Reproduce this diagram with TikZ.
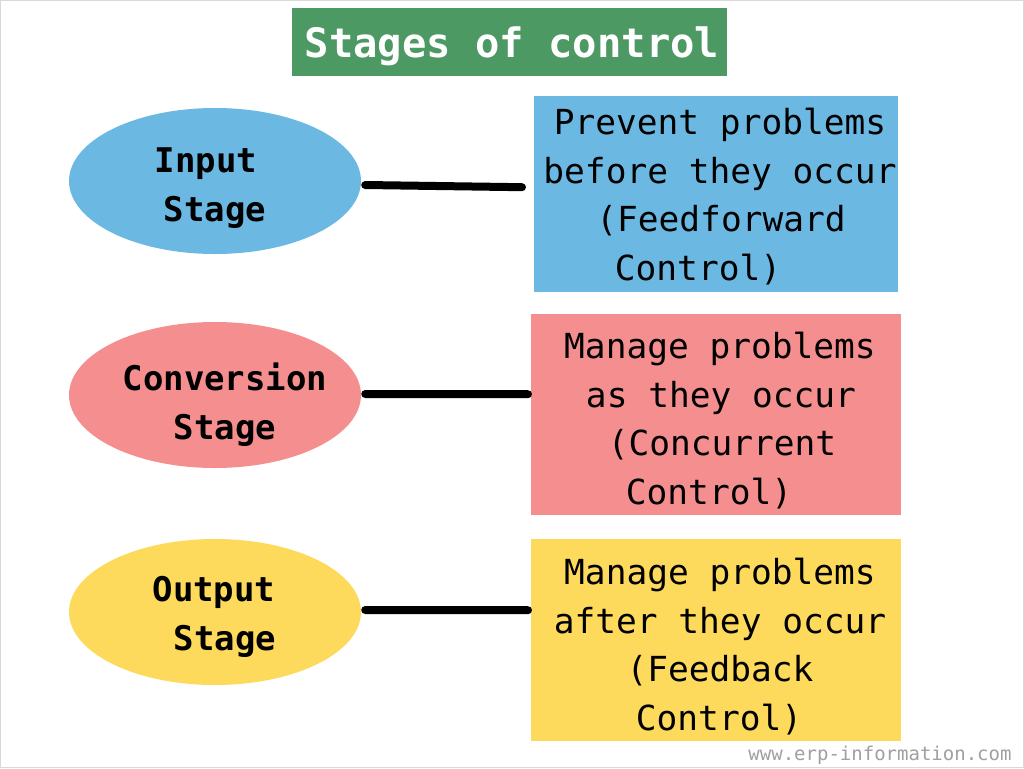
\documentclass[tikz,border=0pt]{standalone}
\usepackage{fontspec}
\setmonofont{DejaVu Sans Mono}
\usetikzlibrary{shapes.geometric,calc}
\definecolor{titlegreen}{RGB}{76,153,100}
\definecolor{skyblue}{RGB}{107,185,226}
\definecolor{salmon}{RGB}{245,143,143}
\definecolor{sunyellow}{RGB}{254,218,92}
\definecolor{wmgray}{RGB}{160,160,160}
\tikzset{
  stageell/.style={ellipse, minimum width=292pt, minimum height=146pt, inner sep=0pt, draw=none},
  ctrlbox/.style={rectangle, inner sep=0pt, draw=none, anchor=north west},
  boxtxt/.style={font=\ttfamily\fontsize{34.5}{40}\selectfont, anchor=base, inner sep=0pt, text=black},
  elltxt/.style={font=\ttfamily\bfseries\fontsize{34}{40}\selectfont, anchor=base, inner sep=0pt, text=black},
  conn/.style={line width=8pt, line cap=round, black}
}
\begin{document}
\begin{tikzpicture}[x=1pt,y=-1pt]
\useasboundingbox (0,0) rectangle (1024,768);
\fill[white] (0,0) rectangle (1024,768);
\draw[black!15, line width=1pt] (0.5,0.5) rectangle (1023.5,767.5);

% title
\node[ctrlbox, fill=titlegreen, minimum width=435pt, minimum height=68pt] (title) at (292,8) {};
\node[font=\ttfamily\bfseries\fontsize{40.5}{46}\selectfont, text=white, anchor=base, inner sep=0pt] (titletxt) at (512,58) {Stages of control};

% ellipses
\node[stageell, fill=skyblue] (e1) at (215,181) {};
\node[stageell, fill=salmon] (e2) at (215,395) {};
\node[stageell, fill=sunyellow] (e3) at (215,612) {};

\node[elltxt] (e1a) at (206,172) {Input};
\node[elltxt] (e1b) at (215,221) {Stage};
\node[elltxt] (e2a) at (225,390) {Conversion};
\node[elltxt] (e2b) at (225,439) {Stage};
\node[elltxt] (e3a) at (214,601) {Output};
\node[elltxt] (e3b) at (225,650) {Stage};

% boxes
\node[ctrlbox, fill=skyblue, minimum width=364pt, minimum height=196pt] (b1) at (534,96) {};
\node[ctrlbox, fill=salmon, minimum width=370pt, minimum height=201pt] (b2) at (531,314) {};
\node[ctrlbox, fill=sunyellow, minimum width=370pt, minimum height=202pt] (b3) at (531,539) {};

\node[boxtxt] (b1a) at (720,134) {Prevent problems};
\node[boxtxt] (b1b) at (720,183) {before they occur};
\node[boxtxt] (b1c) at (721,231) {(Feedforward};
\node[boxtxt] (b1d) at (698,280) {Control)};

\node[boxtxt] (b2a) at (720,358) {Manage problems};
\node[boxtxt] (b2b) at (721,407) {as they occur};
\node[boxtxt] (b2c) at (722,455) {(Concurrent};
\node[boxtxt] (b2d) at (709,504) {Control)};

\node[boxtxt] (b3a) at (720,584) {Manage problems};
\node[boxtxt] (b3b) at (720,633) {after they occur};
\node[boxtxt] (b3c) at (720,681) {(Feedback};
\node[boxtxt] (b3d) at (719,730) {Control)};

% connectors
\draw[conn] ($(e1.east)+(4,4)$) -- ($(b1.west)+(-12,-7)$);
\draw[conn] ($(e2.east)+(4,-1)$) -- ($(b2.west)+(-3,-20.5)$);
\draw[conn] ($(e3.east)+(4,-2)$) -- ($(b3.west)+(-3,-30)$);

% watermark
\node[font=\ttfamily\fontsize{19}{22}\selectfont, text=wmgray, anchor=base, inner sep=0pt] (wm) at (880,760) {www.erp-information.com};
\end{tikzpicture}
\end{document}
